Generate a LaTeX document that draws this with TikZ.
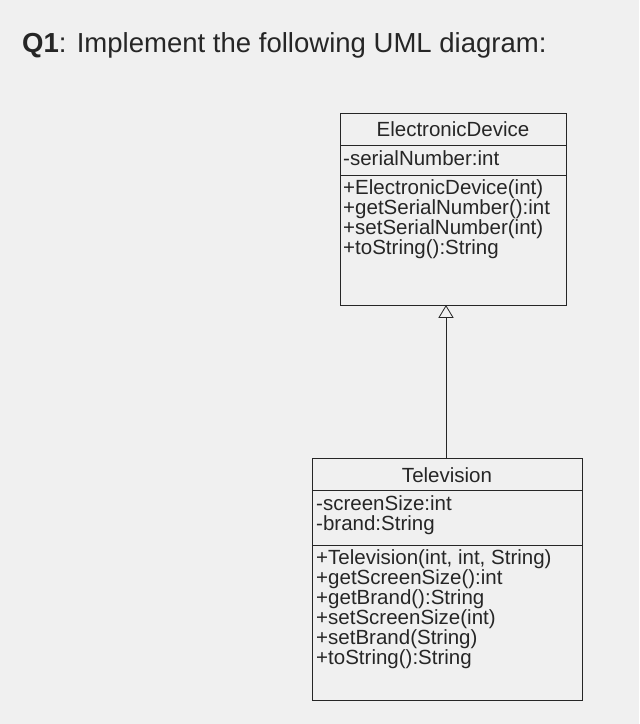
\documentclass[tikz,border=0pt]{standalone}
\usepackage{fontspec}
\setmainfont{Liberation Sans}
\usetikzlibrary{arrows.meta}
\begin{document}
\begin{tikzpicture}[x=0.03cm,y=-0.03cm,
  box/.style={draw=black!85,line width=0.7pt},
  txt/.style={anchor=north west,inner sep=0pt,font=\fontsize{17.5pt}{17.2pt}\selectfont,align=left,text=black!85}]
\fill[black!6] (0,0) rectangle (639,724);
\useasboundingbox (0,0) rectangle (639,724);
\node[anchor=west,inner sep=0pt,font=\fontsize{23.5pt}{26pt}\selectfont,text=black!85] (title) at (22,45) {\textbf{Q1}: Implement the following UML diagram:};
% ElectronicDevice
\draw[box] (340,113) rectangle (566,305);
\draw[box] (340,145) -- (566,145);
\draw[box] (340,175) -- (566,175);
\coordinate (edb) at (446,305);
\node[txt,anchor=center] (edn) at (453,129) {ElectronicDevice};
\node[txt] (eda) at (343,150) {-serialNumber:int};
\node[txt] (edm) at (343,179) {+ElectronicDevice(int)\\+getSerialNumber():int\\+setSerialNumber(int)\\+toString():String};
% Television
\draw[box] (312,458) rectangle (582,700);
\draw[box] (312,490) -- (582,490);
\draw[box] (312,545) -- (582,545);
\coordinate (tvt) at (446,458);
\node[txt,anchor=center] (tvn) at (447,475) {Television};
\node[txt] (tva) at (316,495) {-screenSize:int\\-brand:String};
\node[txt] (tvm) at (316,549) {+Television(int, int, String)\\+getScreenSize():int\\+getBrand():String\\+setScreenSize(int)\\+setBrand(String)\\+toString():String};
\draw[line width=0.7pt,draw=black!85,-{Triangle[open,length=11pt,width=13pt]}] (tvt) -- (edb);
\end{tikzpicture}
\end{document}
